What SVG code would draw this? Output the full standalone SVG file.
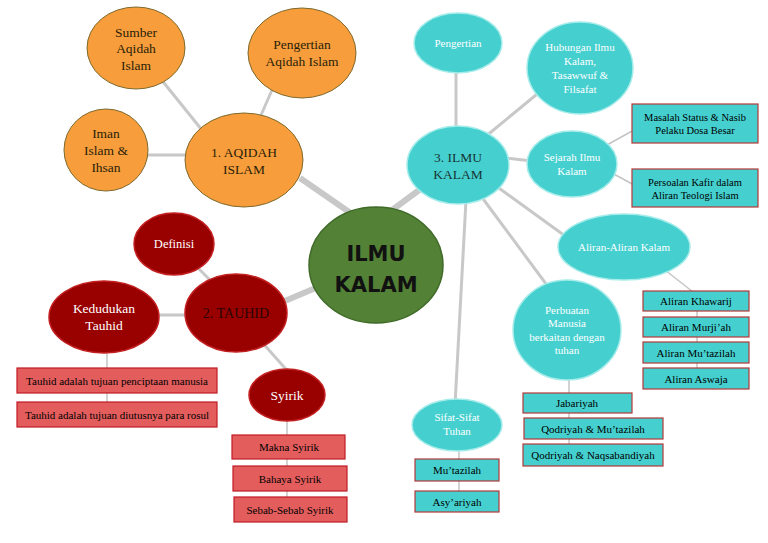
<svg xmlns="http://www.w3.org/2000/svg" width="768" height="543" viewBox="0 0 768 543">
<style>
.c{stroke:#c8c8c8;stroke-width:3;fill:none}
.ct{stroke:#c8c8c8;stroke-width:6;fill:none}
.cs{stroke:#c4c4c4;stroke-width:1.5;fill:none}
.or{fill:#f79d3b;stroke:#7d6a2e;stroke-width:1}
.tl{fill:#45d0cf;stroke:#a6ecea;stroke-width:1.5}
.dr{fill:#990000;stroke:#c42020;stroke-width:1.5}
.rb{fill:#e35d5d;stroke:#c01c24;stroke-width:1.2}
.tb{fill:#45d0cf;stroke:#b53838;stroke-width:1.2}
text{font-family:"Liberation Serif","Times New Roman",serif;text-anchor:middle;dominant-baseline:central}
.to{font-size:13.5px;fill:#2a1e0a}
.tw{font-size:11px;fill:#ffffff}
.tb11{font-size:11px;fill:#000000}
.tr{font-size:13.5px;fill:#ffffff}
</style>
<rect width="768" height="543" fill="#ffffff"/>
<g id="connectors">
<line class="ct" x1="300" y1="178" x2="352" y2="214"/>
<line class="ct" x1="280" y1="303" x2="318" y2="287"/>
<line class="ct" x1="384" y1="216" x2="430" y2="182"/>
<line class="c" x1="160" y1="78" x2="210" y2="140"/>
<line class="c" x1="272" y1="90" x2="258" y2="122"/>
<line class="c" x1="145" y1="155" x2="192" y2="155"/>
<line class="c" x1="456" y1="70" x2="456" y2="130"/>
<line class="c" x1="542" y1="90" x2="485" y2="137"/>
<line class="c" x1="505" y1="158" x2="532" y2="161"/>
<line class="cs" x1="605" y1="146" x2="634" y2="130"/>
<line class="cs" x1="612" y1="173" x2="634" y2="185"/>
<line class="c" x1="492" y1="183" x2="572" y2="241"/>
<line class="c" x1="478" y1="192" x2="552" y2="292"/>
<line class="c" x1="466" y1="200" x2="455" y2="405"/>
<line class="cs" x1="665" y1="270" x2="693" y2="292"/>
<line class="cs" x1="697" y1="310" x2="697" y2="370"/>
<line class="cs" x1="569" y1="376" x2="569" y2="446"/>
<line class="cs" x1="459" y1="448" x2="459" y2="493"/>
<line class="c" x1="195" y1="265" x2="215" y2="285"/>
<line class="c" x1="155" y1="315" x2="192" y2="315"/>
<line class="c" x1="260" y1="340" x2="292" y2="376"/>
<line class="cs" x1="107" y1="352" x2="107" y2="404"/>
<line class="cs" x1="287" y1="418" x2="287" y2="499"/>
</g>
<g id="center">
<ellipse cx="376" cy="265" rx="67" ry="58" fill="#538135" stroke="#3f6a28" stroke-width="1.5"/>
<text x="376" y="254" style="font-family:'DejaVu Sans',sans-serif;font-weight:bold;font-size:21px;fill:#111">ILMU</text>
<text x="376" y="285" style="font-family:'DejaVu Sans',sans-serif;font-weight:bold;font-size:21px;fill:#111">KALAM</text>
</g>
<g id="aqidah">
<ellipse class="or" cx="244" cy="160" rx="59" ry="47"/>
<text class="to" x="244" y="152">1. AQIDAH</text>
<text class="to" x="244" y="169">ISLAM</text>
</g>
<g id="sumber">
<ellipse class="or" cx="136" cy="48" rx="49" ry="41"/>
<text class="to" x="136" y="32">Sumber</text>
<text class="to" x="136" y="48">Aqidah</text>
<text class="to" x="136" y="65">Islam</text>
</g>
<g id="pengertian-aqidah">
<ellipse class="or" cx="302" cy="53" rx="54" ry="45"/>
<text class="to" x="302" y="44">Pengertian</text>
<text class="to" x="302" y="61">Aqidah Islam</text>
</g>
<g id="iman">
<ellipse class="or" cx="106" cy="150" rx="42" ry="41"/>
<text class="to" x="106" y="133">Iman</text>
<text class="to" x="106" y="150">Islam &amp;</text>
<text class="to" x="106" y="167">Ihsan</text>
</g>
<g id="ilmu-kalam-3">
<ellipse class="tl" cx="458" cy="165" rx="51" ry="39"/>
<text x="458" y="157" style="font-size:13.5px;fill:#173535">3. ILMU</text>
<text x="458" y="174" style="font-size:13.5px;fill:#173535">KALAM</text>
</g>
<g id="pengertian">
<ellipse class="tl" cx="458" cy="43" rx="44" ry="30"/>
<text class="tw" x="458" y="43">Pengertian</text>
</g>
<g id="hubungan">
<ellipse class="tl" cx="580" cy="68" rx="53" ry="46"/>
<text class="tw" x="580" y="47">Hubungan Ilmu</text>
<text class="tw" x="580" y="61">Kalam,</text>
<text class="tw" x="580" y="75">Tasawwuf &amp;</text>
<text class="tw" x="580" y="89">Filsafat</text>
</g>
<g id="sejarah">
<ellipse class="tl" cx="572" cy="164" rx="45" ry="33"/>
<text class="tw" x="572" y="157">Sejarah Ilmu</text>
<text class="tw" x="572" y="171">Kalam</text>
</g>
<g id="masalah">
<rect class="tb" x="632" y="104" width="126" height="39"/>
<text class="tb11" x="695" y="117" style="font-size:10.5px">Masalah Status &amp; Nasib</text>
<text class="tb11" x="695" y="130" style="font-size:10.5px">Pelaku Dosa Besar</text>
</g>
<g id="persoalan">
<rect class="tb" x="632" y="169" width="126" height="38"/>
<text class="tb11" x="695" y="182" style="font-size:10.5px">Persoalan Kafir dalam</text>
<text class="tb11" x="695" y="195" style="font-size:10.5px">Aliran Teologi Islam</text>
</g>
<g id="aliran">
<ellipse class="tl" cx="624" cy="247" rx="66" ry="33"/>
<text class="tw" x="624" y="247">Aliran-Aliran Kalam</text>
</g>
<g id="khawarij">
<rect class="tb" x="643" y="291" width="106" height="20"/>
<text class="tb11" x="696" y="301">Aliran Khawarij</text>
</g>
<g id="murjiah">
<rect class="tb" x="643" y="317" width="106" height="20"/>
<text class="tb11" x="696" y="327">Aliran Murji’ah</text>
</g>
<g id="mutazilah-aliran">
<rect class="tb" x="643" y="342" width="106" height="21"/>
<text class="tb11" x="696" y="352.5">Aliran Mu’tazilah</text>
</g>
<g id="aswaja">
<rect class="tb" x="643" y="368" width="106" height="21"/>
<text class="tb11" x="696" y="378.5">Aliran Aswaja</text>
</g>
<g id="perbuatan">
<ellipse class="tl" cx="567" cy="330" rx="54" ry="50"/>
<text class="tw" x="567" y="310">Perbuatan</text>
<text class="tw" x="567" y="323">Manusia</text>
<text class="tw" x="567" y="337">berkaitan dengan</text>
<text class="tw" x="567" y="350">tuhan</text>
</g>
<g id="jabariyah">
<rect class="tb" x="523" y="393" width="109" height="20"/>
<text class="tb11" x="577" y="403">Jabariyah</text>
</g>
<g id="qodriyah-mutazilah">
<rect class="tb" x="524" y="418" width="139" height="21"/>
<text class="tb11" x="593" y="428.5">Qodriyah &amp; Mu’tazilah</text>
</g>
<g id="qodriyah-naqsabandiyah">
<rect class="tb" x="523" y="444" width="140" height="22"/>
<text class="tb11" x="593" y="455">Qodriyah &amp; Naqsabandiyah</text>
</g>
<g id="sifat">
<ellipse class="tl" cx="457" cy="425" rx="45" ry="26"/>
<text class="tw" x="457" y="417">Sifat-Sifat</text>
<text class="tw" x="457" y="431">Tuhan</text>
</g>
<g id="mutazilah">
<rect class="tb" x="415" y="459" width="84" height="22"/>
<text class="tb11" x="457" y="470">Mu’tazilah</text>
</g>
<g id="asyariyah">
<rect class="tb" x="415" y="491" width="84" height="21"/>
<text class="tb11" x="457" y="501.5">Asy’ariyah</text>
</g>
<g id="tauhid">
<ellipse class="dr" cx="236" cy="313" rx="51" ry="39"/>
<text x="236" y="313" style="font-size:14px;fill:#2a0505">2. TAUHID</text>
</g>
<g id="definisi">
<ellipse class="dr" cx="174" cy="244" rx="40" ry="31"/>
<text class="tr" x="174" y="244" style="font-size:12.5px">Definisi</text>
</g>
<g id="kedudukan">
<ellipse class="dr" cx="104" cy="317" rx="55" ry="36"/>
<text class="tr" x="104" y="308">Kedudukan</text>
<text class="tr" x="104" y="325">Tauhid</text>
</g>
<g id="tujuan-penciptaan">
<rect class="rb" x="17" y="368" width="200" height="25"/>
<text class="tb11" x="117" y="380.5">Tauhid adalah tujuan penciptaan manusia</text>
</g>
<g id="tujuan-diutus">
<rect class="rb" x="17" y="402" width="200" height="25"/>
<text class="tb11" x="117" y="414.5">Tauhid adalah tujuan diutusnya para rosul</text>
</g>
<g id="syirik">
<ellipse class="dr" cx="287" cy="395" rx="38" ry="26"/>
<text class="tr" x="287" y="395">Syirik</text>
</g>
<g id="makna-syirik">
<rect class="rb" x="232" y="435" width="113" height="24"/>
<text class="tb11" x="289" y="447">Makna Syirik</text>
</g>
<g id="bahaya-syirik">
<rect class="rb" x="233" y="466" width="114" height="25"/>
<text class="tb11" x="290" y="478.5">Bahaya Syirik</text>
</g>
<g id="sebab-syirik">
<rect class="rb" x="234" y="497" width="113" height="25"/>
<text class="tb11" x="290" y="509.5">Sebab-Sebab Syirik</text>
</g>
</svg>
